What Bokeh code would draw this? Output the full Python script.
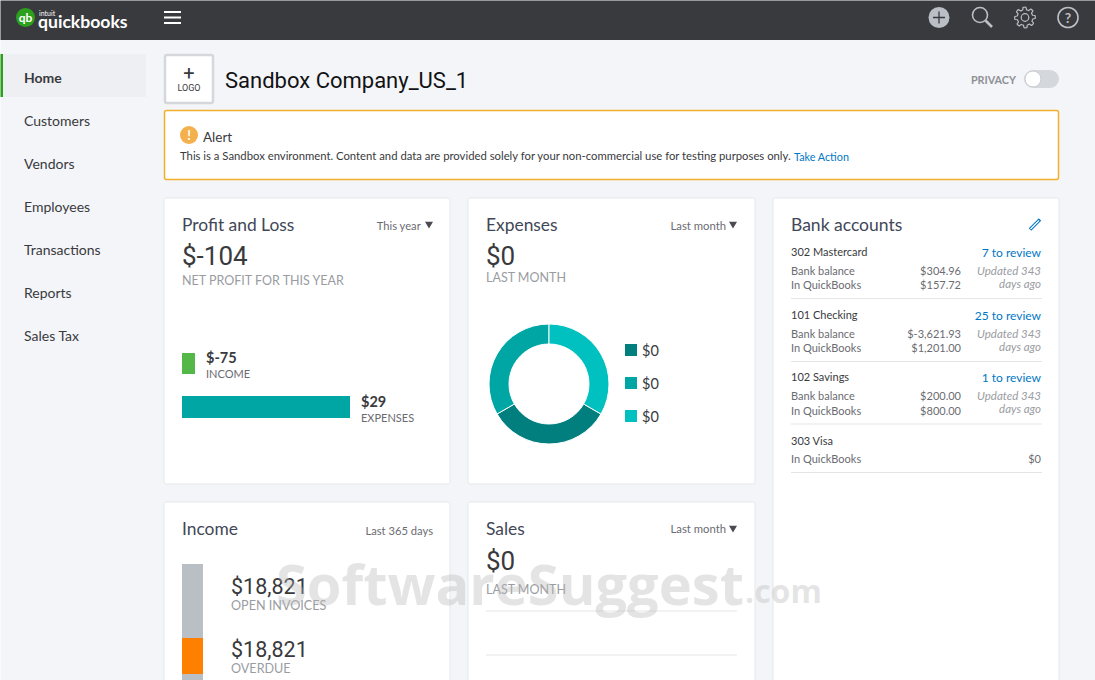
import math

from bokeh.core.properties import value
from bokeh.embed import file_html
from bokeh.models import Range1d
from bokeh.plotting import figure
from bokeh.resources import INLINE

# chart values
nav_items = ["Home", "Customers", "Vendors", "Employees", "Transactions", "Reports", "Sales Tax"]
pl_total = "$-104"
pl_labels = ["INCOME", "EXPENSES"]
pl_amounts = ["$-75", "$29"]
pl_bar_lengths = [13, 168]
expense_shares = [1, 1, 1]
expense_amounts = ["$0", "$0", "$0"]
expense_colors = ["#007f7e", "#00a6a4", "#00c1bf"]
income_segments = [74, 36, 6]
income_colors = ["#babec5", "#ff8000", "#babec5"]
income_amounts = ["$18,821", "$18,821"]
income_labels = ["OPEN INVOICES", "OVERDUE"]
bank_names = ["302 Mastercard", "101 Checking", "102 Savings", "303 Visa"]
bank_reviews = ["7 to review", "25 to review", "1 to review", ""]
bank_balances = ["$304.96", "$-3,621.93", "$200.00", ""]
book_balances = ["$157.72", "$1,201.00", "$800.00", "$0"]

BODY = "Lato"
NUM = "Roboto"
DARK = "#393a3d"
TITLE = "#3f4757"
GREY = "#6b6c72"
SOFT = "#9a9ca2"
BLUE = "#0077c5"
RULE = "#e3e5e8"

p = figure(width=1095, height=680, x_range=Range1d(0.5, 1095.5), y_range=Range1d(680.5, 0.5),
           output_backend="svg", toolbar_location=None, min_border=0)
p.axis.visible = False
p.grid.visible = False
p.outline_line_color = None
p.background_fill_color = "#f4f5f8"
p.border_fill_color = "#f4f5f8"


def box(x0, x1, y0, y1, fill, line=None, width=1, radius=0):
    p.quad(left=x0, right=x1, top=y0, bottom=y1, fill_color=fill, line_color=line,
           line_width=width, border_radius=radius)


def rule(x0, x1, y, color=RULE, width=1):
    p.line([x0, x1], [y, y], line_color=color, line_width=width)


def label(x, y, txt, size, color=DARK, font=BODY, style="normal", align="left", alpha=1):
    p.text([x], [y], text=[txt], text_font=value(font), text_font_size=f"{size}px", text_color=color,
           text_font_style=style, text_align=align, text_baseline="middle", text_alpha=alpha)


def caret(x, y):
    p.scatter([x], [y], marker="inverted_triangle", size=8, fill_color="#4a4b50", line_color=None)


# top bar
box(0, 1096, 0, 40, "#393a3d")
p.circle([25.5], [17.5], radius=9.5, fill_color="#2ca01c", line_color=None)
label(25.5, 17, "qb", 12, "white", style="bold", align="center")
label(39, 12.5, "intuit", 7, "white")
label(38, 21, "quickbooks", 17.6, "white", style="bold")
for y in [12, 17.5, 23]:
    rule(164, 181, y, "white", 2.2)
p.circle([939], [17.5], radius=10.5, fill_color="#babec5", line_color=None)
rule(933, 945, 17.5, DARK, 1.3)
p.line([939, 939], [11.5, 23.5], line_color=DARK, line_width=1.3)
p.circle([980], [15], radius=7.5, fill_color=None, line_color="#babec5", line_width=1.6)
p.line([985.5, 992], [20.5, 27], line_color="#babec5", line_width=2.6)
gear_x, gear_y = [], []
for i in range(64):
    a = i * math.pi / 32
    r = 10.3 if (i + 2) % 8 < 4 else 7.8
    gear_x.append(1025 + r * math.cos(a))
    gear_y.append(17.5 + r * math.sin(a))
p.patch(gear_x, gear_y, fill_color=None, line_color="#babec5", line_width=1.2)
p.circle([1025], [17.5], radius=3.8, fill_color=None, line_color="#babec5", line_width=1.2)
p.circle([1068], [17.5], radius=10, fill_color=None, line_color="#babec5", line_width=1.6)
label(1068, 17.5, "?", 14, "#babec5", style="bold", align="center")

# side menu
box(0, 146, 54, 97, "#eeeff2")
box(0, 3, 54, 97, "#2ca01c")
for i, item in enumerate(nav_items):
    label(24, 77 + 43 * i, item, 14, DARK, style="bold" if i == 0 else "normal")

# company header
box(165, 213, 55, 103, "white", "#d4d7dc", 2.5, 2)
label(189, 72, "+", 20, DARK, NUM, align="center")
label(189, 88, "LOGO", 9, DARK, NUM, align="center")
label(225, 80, "Sandbox Company_US_1", 22, "#111214", NUM)
label(1016, 79, "PRIVACY", 10.8, "#8d9096", style="bold", align="right")
box(1024, 1059, 70, 88, "#d4d7dc", radius=9)
p.circle([1033], [79], radius=8, fill_color="white", line_color="#c8cbd0")

# alert
box(164.5, 1058.5, 110.5, 179.5, "white", "#f2b02a", 1.5, 2)
p.circle([189], [135], radius=9, fill_color="#f4b04c", line_color=None)
label(189, 135, "!", 13, "white", style="bold", align="center")
label(203, 137, "Alert", 13.5, DARK)
label(180, 155, "This is a Sandbox environment. Content and data are provided solely for your non-commercial use for testing purposes only.", 11.3, DARK)
label(794, 156, "Take Action", 10.8, BLUE)

# cards
for x0, x1, y0, y1 in [(164, 450, 198, 484), (468, 755, 198, 484), (773, 1059, 198, 690),
                       (164, 450, 502, 690), (468, 755, 502, 690)]:
    box(x0, x1, y0, y1, "white", "#e6e7ea", 1, 2)

# profit and loss
label(182, 224, "Profit and Loss", 17.4, TITLE)
label(421, 225, "This year", 11.2, GREY, align="right")
caret(429, 224)
label(182, 256, pl_total, 26, DARK, NUM)
label(182, 280, "NET PROFIT FOR THIS YEAR", 12.5, SOFT)
box(182, 182 + pl_bar_lengths[0], 353, 374, "#53b848")
box(182, 182 + pl_bar_lengths[1], 396, 418, "#00a6a4")
label(206, 357, pl_amounts[0], 14.5, DARK, style="bold")
label(206, 373, pl_labels[0], 11, GREY)
label(361, 401, pl_amounts[1], 14.5, DARK, style="bold")
label(361, 417, pl_labels[1], 11, GREY)

# expenses
label(486, 224, "Expenses", 17.4, TITLE)
label(726, 225, "Last month", 11.3, GREY, align="right")
caret(733, 224)
label(486, 256, "$0", 26, DARK, NUM)
label(486, 277, "LAST MONTH", 12.5, SOFT)
total = sum(expense_shares)
# slices run clockwise from the dark one, which sits at the bottom
start = 330.0
for share, color in zip(expense_shares, expense_colors):
    end = start - 360.0 * share / total
    p.annular_wedge([549], [384], inner_radius=40, outer_radius=60, start_angle=start, end_angle=end,
                    start_angle_units="deg", end_angle_units="deg", direction="clock",
                    fill_color=color, line_color="white", line_width=1)
    start = end
for i, (amount, color) in enumerate(zip(expense_amounts, expense_colors)):
    box(625, 637, 344 + 33 * i, 356 + 33 * i, color)
    label(642, 350 + 33 * i, amount, 14.5, DARK)

# bank accounts
label(791, 224, "Bank accounts", 17.5, TITLE)
p.line([1030, 1040], [229.5, 219.5], line_color=BLUE, line_width=3.4)
p.line([1030.5, 1039], [229, 220.5], line_color="white", line_width=1.2)
name_y = [251, 314, 376.5, 440]
for i, name in enumerate(bank_names):
    y = name_y[i]
    label(791, y, name, 11, DARK)
    if i < 3:
        label(1041, y + 1, bank_reviews[i], 12, BLUE, align="right")
        label(791, y + 19, "Bank balance", 11, GREY)
        label(961, y + 19, bank_balances[i], 11, GREY, align="right")
        label(791, y + 33.5, "In QuickBooks", 11, GREY)
        label(961, y + 33.5, book_balances[i], 11, GREY, align="right")
        label(1041, y + 19, "Updated 343", 11.5, SOFT, style="italic", align="right")
        label(1041, y + 32, "days ago", 11.5, SOFT, style="italic", align="right")
        rule(791, 1042, y + 47.5)
    else:
        label(791, y + 18, "In QuickBooks", 11, GREY)
        label(1041, y + 18, book_balances[i], 11, GREY, align="right")
        rule(791, 1042, y + 32.5)

# income
label(182, 528, "Income", 17.4, TITLE)
label(433, 530, "Last 365 days", 11.2, GREY, align="right")
top = 564
for length, color in zip(income_segments, income_colors):
    box(182, 203, top, top + length, color)
    top += length
for i in range(2):
    label(231, 586 + 63 * i, income_amounts[i], 21.5, DARK, NUM)
    label(231, 605 + 63 * i, income_labels[i], 12.6, SOFT)

# sales
label(486, 528, "Sales", 17.4, TITLE)
label(726, 528, "Last month", 11.3, GREY, align="right")
caret(733, 528)
label(486, 561, "$0", 26, DARK, NUM)
label(486, 589, "LAST MONTH", 12.5, SOFT)
rule(486, 737, 611)
rule(486, 737, 655)

# watermark
label(276, 583, "SoftwareSuggest", 56, "#b9b9b9", "Open Sans", "bold", alpha=0.38)
label(745, 590, ".com", 32, "#b9b9b9", "Open Sans", "bold", alpha=0.38)

open("out.html", "w").write(file_html(p, INLINE))
